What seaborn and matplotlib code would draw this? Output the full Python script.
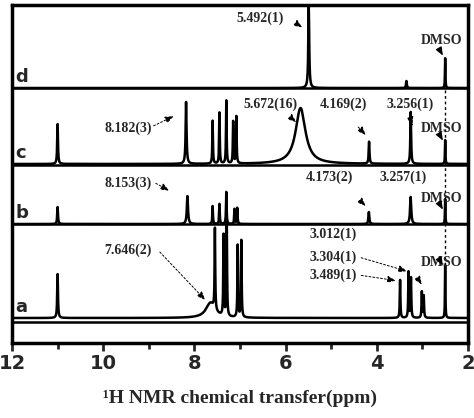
import numpy as np
import matplotlib
matplotlib.use("Agg")
import matplotlib.pyplot as plt
import seaborn as sns

sns.set_style("white")

# peak lists: (ppm, height, half-width) per trace; heights in pixel-like units
pos_d = [5.492, 3.35, 2.50]
hgt_d = [83, 7, 30]
wid_d = [0.012, 0.01, 0.006]

pos_c = [11.0, 8.182, 7.60, 7.45, 7.30, 7.15, 7.08, 5.672, 4.169, 3.256, 2.50]
hgt_c = [40, 62, 43, 51, 63, 42, 47, 56, 22, 52, 24]
wid_c = [0.01, 0.012, 0.008, 0.008, 0.008, 0.008, 0.008, 0.13, 0.01, 0.01, 0.006]

pos_b = [11.0, 8.153, 7.60, 7.45, 7.30, 7.12, 7.06, 4.173, 3.257, 2.50]
hgt_b = [17, 28, 18, 20, 32, 15, 16, 12, 27, 25]
wid_b = [0.01, 0.015, 0.008, 0.008, 0.008, 0.008, 0.008, 0.012, 0.015, 0.006]

pos_a = [11.0, 7.646, 7.55, 7.36, 7.29, 7.05, 6.97, 3.489, 3.304, 3.25, 3.012, 2.97, 2.50]
hgt_a = [44, 15, 81, 81, 96, 72, 77, 38, 46, 40, 26, 22, 53]
wid_a = [0.01, 0.12, 0.008, 0.008, 0.008, 0.008, 0.008, 0.008, 0.008, 0.008, 0.008, 0.008, 0.006]

labels = ["d", "c", "b", "a"]
H = 343  # reference frame height (pixel-like units)
base_px = [88, 164, 224, 318]
sep_px = [88, 165, 224, 322]

def spec(x, pos, hgt, wid):
    y = np.zeros_like(x)
    for p, h, w in zip(pos, hgt, wid):
        y += h * w**2 / ((x - p)**2 + w**2)
    return y

fig = plt.figure(figsize=(4.74, 4.18), dpi=100)
ax = fig.add_axes([12/474, 75/418, 456/474, 338/418])
x = np.linspace(1.95, 12.05, 8000)
for (pos, hgt, wid), b in zip([(pos_d, hgt_d, wid_d), (pos_c, hgt_c, wid_c),
                                (pos_b, hgt_b, wid_b), (pos_a, hgt_a, wid_a)], base_px):
    y = spec(x, pos, hgt, wid)
    y = np.minimum(y, b - 5) if b == 88 else y
    sns.lineplot(x=x, y=(H - b) + y, ax=ax, color="black", lw=1.8, sort=False)
for s in sep_px:
    ax.axhline(H - s, color="black", lw=1.8)
ax.plot([2.5, 2.5], [H - 90, H - 265], ls=(0, (2, 2)), color="black", lw=1)

ax.set_xlim(12, 2)
ax.set_ylim(0, H - 5)
ax.set_yticks([])
ax.set_xticks([12, 10, 8, 6, 4, 2])
ax.set_xticks([11, 9, 7, 5, 3], minor=True)
ax.tick_params(axis="x", which="major", direction="out", length=6, width=2, bottom=True, labelsize=14, pad=2)
ax.tick_params(axis="x", which="minor", direction="out", length=4, width=2, bottom=True)
for t in ax.get_xticklabels():
    t.set_fontweight("bold")
for sp in ax.spines.values():
    sp.set_linewidth(2.5)
    sp.set_color("black")

for lab, b in zip(labels, base_px):
    ax.text(11.93, H - b + 2, lab, fontsize=13, fontweight="bold", va="bottom", ha="left")

serif = dict(family="Liberation Serif", fontweight="bold", fontsize=10)
texts = [("5.492(1)", 6.56, 18), ("8.182(3)", 9.46, 128), ("5.672(16)", 6.34, 104),
         ("4.169(2)", 4.74, 104), ("3.256(1)", 3.27, 104), ("8.153(3)", 9.46, 183),
         ("4.173(2)", 5.03, 177), ("3.257(1)", 3.43, 177), ("7.646(2)", 9.46, 250),
         ("3.012(1)", 4.96, 234), ("3.304(1)", 4.96, 257), ("3.489(1)", 4.96, 275)]
for txt, tx, ty in texts:
    ax.text(tx, H - ty, txt, ha="center", va="center", **serif)

arrows = [((5.75, 24), (5.58, 29)), ((8.95, 127), (8.4, 115)), ((5.9, 117), (5.72, 124)),
          ((4.45, 125), (4.2, 137)), ((3.24, 122), (3.2, 128)), ((8.9, 182), (8.5, 192)),
          ((4.4, 199), (4.2, 208)), ((8.8, 250), (7.72, 302)), ((4.4, 257), (3.28, 272)),
          ((4.4, 275), (3.52, 281)), ((3.08, 280), (2.98, 287))]
for (tx, ty), (hx, hy) in arrows:
    ax.annotate("", xy=(hx, H - hy), xytext=(tx, H - ty),
                arrowprops=dict(arrowstyle="-|>,head_length=0.5,head_width=0.2",
                                ls=(0, (2, 2)), lw=0.7, color="black"))

dm = dict(family="Liberation Serif", fontweight="bold", fontsize=10)
for ty, ay in [(40, 58), (128, 143), (198, 212), (262, 268)]:
    ax.text(2.57, H - ty, "DMSO", ha="center", va="center", **dm)
    ax.annotate("", xy=(2.52, H - ay), xytext=(2.62, H - ay + 8),
                arrowprops=dict(arrowstyle="-|>,head_length=0.5,head_width=0.2", lw=0.8, color="black"))

ax.set_xlabel("¹H NMR chemical transfer(ppm)", family="Liberation Serif",
              fontweight="bold", fontsize=14, labelpad=12)
fig.savefig("out.png", dpi=100)
